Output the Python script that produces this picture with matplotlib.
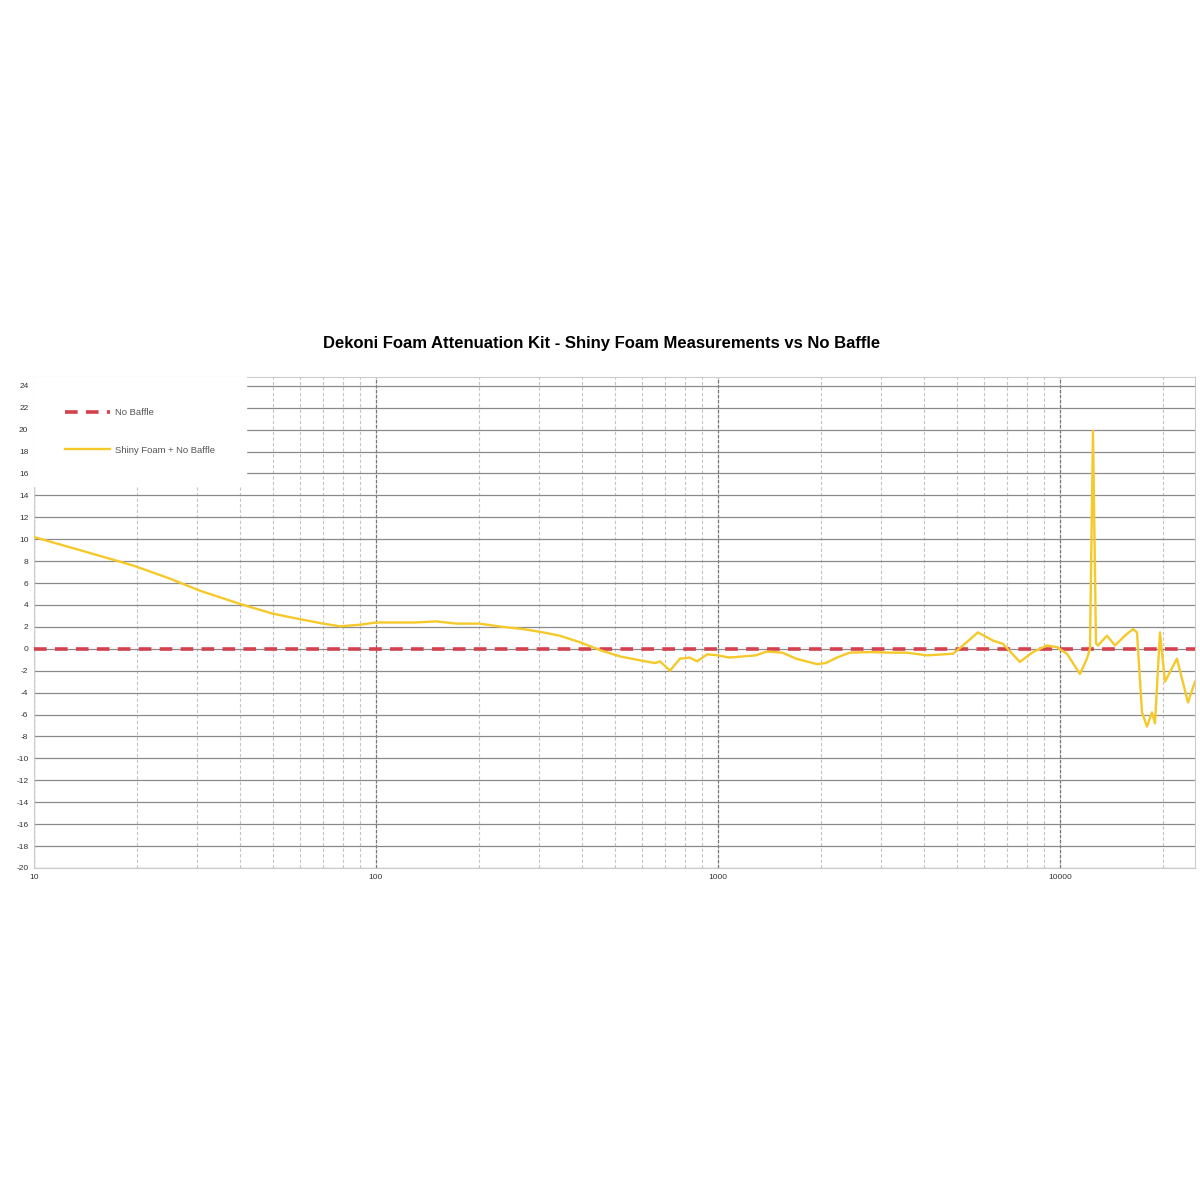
import numpy as np
import matplotlib
matplotlib.use("Agg")
import matplotlib.pyplot as plt
from matplotlib.ticker import FixedLocator, NullFormatter

plt.rcParams['font.family'] = ['Liberation Sans', 'DejaVu Sans']
plt.rcParams['axes.unicode_minus'] = False

# Shiny Foam + No Baffle (dB)
freq = [10, 14, 19.5, 25, 30.6, 40, 50, 60, 70, 78.5, 90, 100, 130, 150, 172, 200,
        235, 270, 308, 344, 395, 455, 518, 591, 655, 677, 724, 774, 828, 869, 930,
        1000, 1080, 1290, 1391, 1543, 1692, 1949, 2066, 2228, 2428, 2779, 3175, 3563,
        4085, 4866, 5204, 5757, 6370,
        6813, 7638, 8337, 9162, 9800, 10483, 11442, 11993, 12240, 12491, 12747,
        12917, 13723, 14486, 15489, 16354, 16798, 17375, 17968, 18578, 18961,
        19613, 20277, 21985, 23677, 24818]
foam = [10.2, 8.9, 7.6, 6.4, 5.3, 4.1, 3.2, 2.7, 2.3, 2.05, 2.2, 2.4, 2.4, 2.5, 2.3, 2.3,
        2.0, 1.8, 1.5, 1.2, 0.6, -0.15, -0.7, -1.05, -1.3, -1.15, -2.0, -0.9, -0.8, -1.15, -0.5,
        -0.6, -0.8, -0.6, -0.25, -0.35, -0.9, -1.4, -1.3, -0.8, -0.35, -0.3, -0.35, -0.35,
        -0.6, -0.45, 0.3, 1.5, 0.75,
        0.45, -1.2, -0.3, 0.3, 0.15, -0.45, -2.3, -0.9, 0.0, 19.9, 0.5,
        0.3, 1.2, 0.3, 1.2, 1.8, 1.5, -5.8, -7.1, -5.8, -6.8,
        1.5, -3.0, -0.9, -4.9, -3.0]

ref_freq = [10, 24818]
ref_db = [0, 0]

y_ticks = list(range(-20, 26, 2))
x_ticks = [10, 100, 1000, 10000]

fig = plt.figure(figsize=(12, 12), dpi=100)
ax = fig.add_axes([0.0283, 0.2767, 0.9675, 0.4091])

ax.plot(ref_freq, ref_db, color='#d4404e', lw=2.6, dashes=(3.5, 2.3),
        label='No Baffle', zorder=3)
ax.plot(freq, foam, color='#f5c92a', lw=1.7, label='Shiny Foam + No Baffle', zorder=4)

ax.set_xscale('log')
ax.set_xlim(10, 24818)
ax.set_ylim(-20, 24.8)
ax.set_yticks(y_ticks)
ax.set_xticks(x_ticks)
ax.set_xticklabels([str(t) for t in x_ticks])
ax.xaxis.set_minor_locator(FixedLocator([m * 10 ** d for d in range(1, 5) for m in range(2, 10)]))
ax.xaxis.set_minor_formatter(NullFormatter())
ax.tick_params(axis='both', which='both', labelsize=6, length=0, labelcolor='#333333', pad=4)

ax.grid(axis='y', which='major', color='#8a8a8a', lw=0.9)
ax.grid(axis='x', which='major', color='#777777', lw=0.9, ls=(0, (3, 1)))
ax.grid(axis='x', which='minor', color='#c4c4c4', lw=0.8, ls=(0, (3, 2)))
ax.set_axisbelow(True)
for s in ax.spines.values():
    s.set_color('#cccccc')
    s.set_linewidth(0.8)

leg = ax.legend(loc='upper left', bbox_to_anchor=(0.0, 1.0), fontsize=6.8, frameon=True,
                fancybox=False, edgecolor='white', framealpha=1.0, handlelength=4.8,
                labelspacing=3.0, borderpad=3.3, borderaxespad=0.0, handletextpad=0.5)
leg.set_zorder(5)
for t in leg.get_texts():
    t.set_color('#555555')

fig.text(0.5014, 0.714, 'Dekoni Foam Attenuation Kit - Shiny Foam Measurements vs No Baffle',
         ha='center', va='center', fontsize=12, fontweight='bold')

fig.savefig('out.png', dpi=100, facecolor='white')
